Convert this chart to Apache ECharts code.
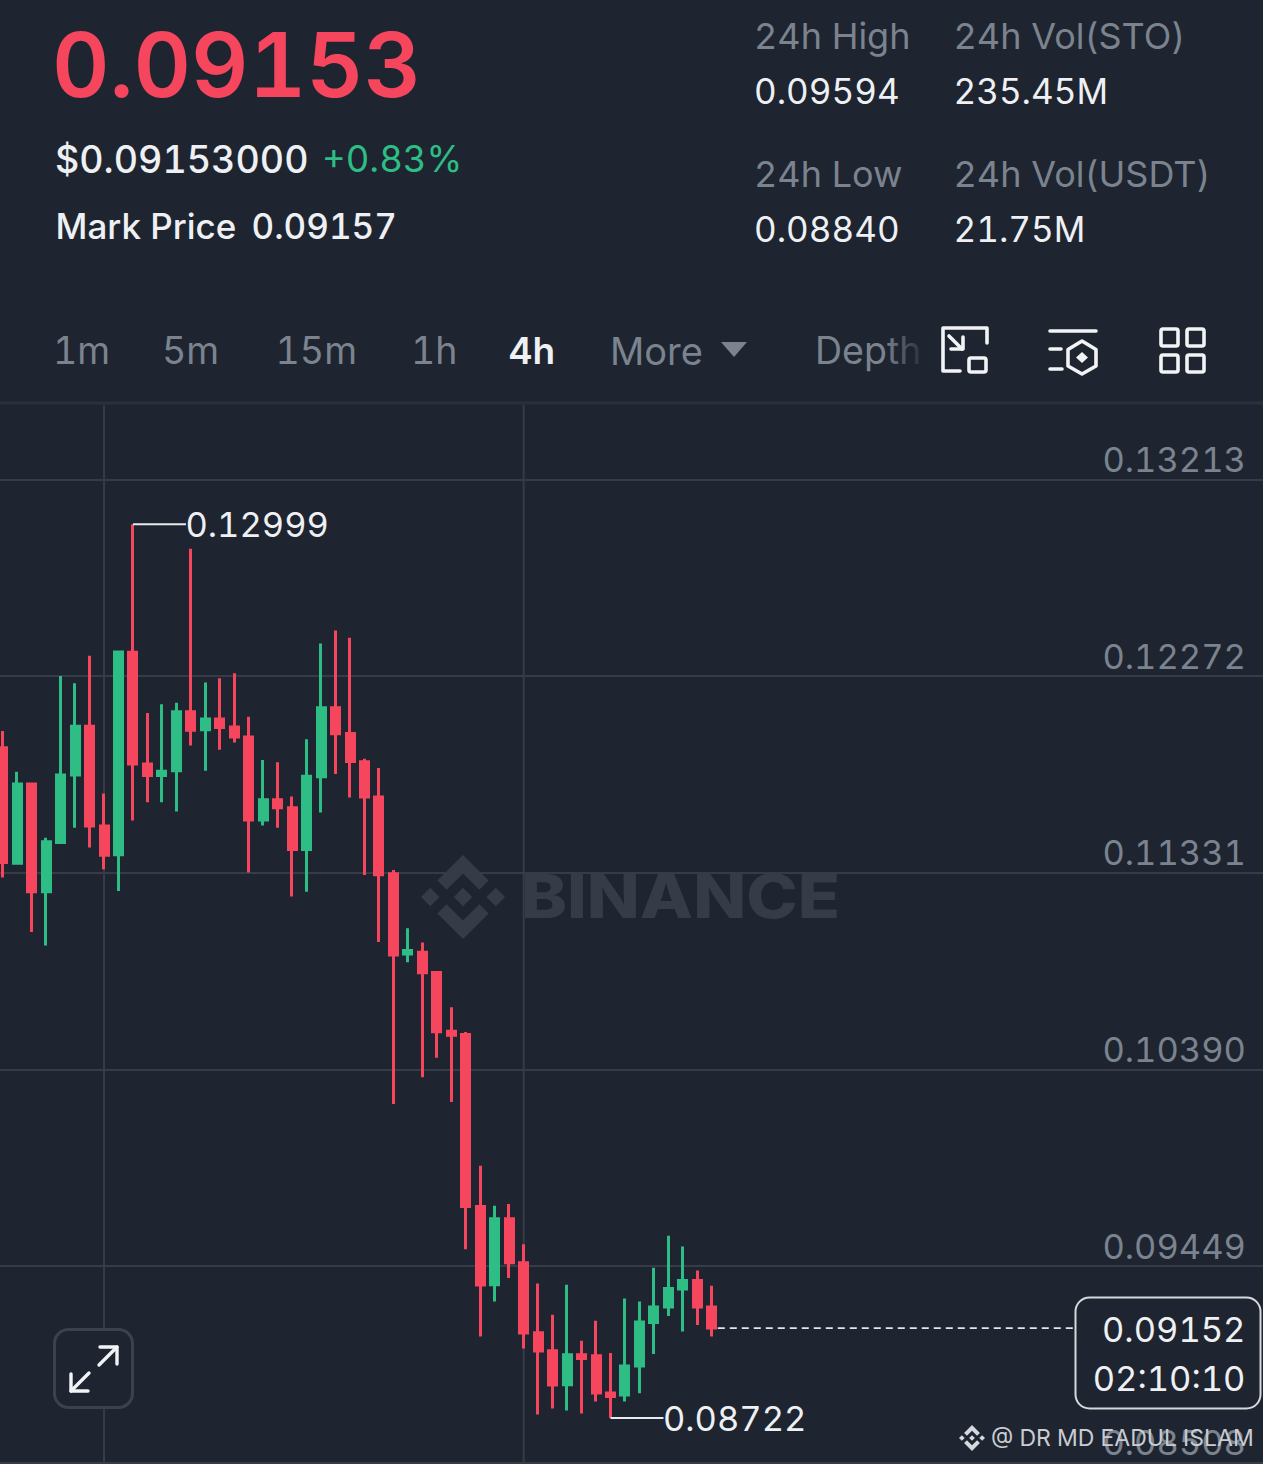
<!DOCTYPE html>
<html><head><meta charset="utf-8">
<style>html,body{margin:0;padding:0;background:#1E2530}#c{width:1263px;height:1464px}
#c svg text{font-feature-settings:"tnum" 1 !important;font-variant-numeric:tabular-nums !important}</style>
<script src="https://cdn.jsdelivr.net/npm/echarts@6/dist/echarts.min.js"></script>
</head><body><div id="c"></div>
<script>
const opens=[.11929,.11377,.11756,.11240,.11476,.11799,.12032,.11555,.11417,.12386,.11851,.11796,.11819,.12102,.12015,.12067,.12028,.11981,.11584,.11680,.11642,.11442,.11791,.12121,.11997,.11862,.11694,.11326,.10942,.10951,.10854,.10573,.10557,.09734,.09360,.09675,.09465,.09130,.09044,.08881,.09025,.09020,.08842,.08832,.08971,.09179,.09253,.09339,.09380,.09253];
const closes=[.11380,.11756,.11240,.11479,.11799,.12032,.11555,.11415,.12388,.11852,.11796,.11817,.12101,.12013,.12067,.12026,.11981,.11584,.11680,.11642,.11442,.11793,.12121,.11996,.11863,.11693,.11321,.10938,.10959,.10852,.10570,.10554,.09734,.09358,.09675,.09465,.09129,.09043,.08880,.09025,.09007,.08842,.08825,.08971,.09181,.09253,.09342,.09380,.09253,.09152];
const lows=[.11308,.11374,.11047,.10983,.11471,.11546,.11452,.11348,.11244,.11581,.11669,.11669,.11624,.11940,.11819,.11920,.11954,.11332,.11557,.11546,.11217,.11240,.11619,.11804,.11691,.11320,.11000,.10224,.10903,.10353,.10446,.10234,.09530,.09112,.09280,.09392,.09054,.08739,.08767,.08758,.08743,.08801,.08722,.08801,.08840,.09028,.09210,.09136,.09167,.09112];
const highs=[.12010,.11815,.11758,.11499,.12273,.12238,.12369,.11710,.12394,.12999,.12096,.12138,.12145,.12881,.12241,.12262,.12286,.12078,.11871,.11860,.11696,.11970,.12428,.12490,.12456,.11877,.11832,.11344,.11066,.10997,.10858,.10688,.10569,.09929,.09738,.09746,.09553,.09365,.09216,.09360,.09092,.09187,.09033,.09294,.09280,.09441,.09594,.09542,.09428,.09355];
const categories=opens.map((_,i)=>'K'+(i+1));
const emptySlots=38;
const priceTicks=[0.13213,0.12272,0.11331,0.10390,0.09449,0.08508];
const verticalGridAt=[[7,0.135694,0.085018],[36,0.135694,0.085018]];
const extremes=[[9,0.12999],[42,0.08722]];
const lastPrice=0.09152;
const countdown='02:10:10';

const BG='#1E2530',RED='#F6465D',GREEN='#2EBD85',GREY='#7B838F',WHITE='#EEF0F3',GRID='#363C47',F='Inter';
const chart=echarts.init(document.getElementById('c'),null,{renderer:'svg'});

function T(text,x,y,font,fill,align){return {type:'text',z:20,silent:true,style:{text,x,y,font:font+' '+F,fill,align:align||'left',verticalAlign:'middle'}};}
function L(pts,stroke,w){return {type:'polyline',z:20,silent:true,shape:{points:pts},style:{stroke,lineWidth:w||3.6,fill:null,lineCap:'round',lineJoin:'round'}};}
function R(x,y,w,h,r,stroke,lw,fill){return {type:'rect',z:20,silent:true,shape:{x,y,width:w,height:h,r},style:{stroke,lineWidth:lw||3.6,fill:fill||null}};}
function P(pts,fill,z){return {type:'polygon',z:z||20,silent:true,shape:{points:pts},style:{fill}};}
function logo(cx,cy,r,fill){
  const m=a=>a.map(p=>[cx+p[0]*r,cy+p[1]*r]);
  const dia=(x,y,d)=>m([[x,y-d],[x+d,y],[x,y+d],[x-d,y]]);
  return [P(dia(0,0,.22),fill),P(dia(-.78,0,.22),fill),P(dia(.78,0,.22),fill),
    P(m([[0,-1],[.61,-.39],[.39,-.17],[0,-.56],[-.39,-.17],[-.61,-.39]]),fill),
    P(m([[0,1],[.61,.39],[.39,.17],[0,.56],[-.39,.17],[-.61,.39]]),fill)];
}
const wh='#F2F3F5';
const graphics=[
  T('0.09153',52,64,'600 89px',RED),
  T('$0.09153000',55,159,'500 37.6px',WHITE),
  T('+0.83%',322,159,'400 36.5px',GREEN),
  T('Mark Price',55.5,226,'500 35px',WHITE),
  T('0.09157',251.5,226,'500 35px',WHITE),
  T('24h High',754,36,'400 36px',GREY),
  T('0.09594',754,91,'400 35px',WHITE),
  T('24h Low',754,174,'400 36px',GREY),
  T('0.08840',754,229,'400 35px',WHITE),
  T('24h Vol(STO)',953.5,36,'400 36px',GREY),
  T('235.45M',953.5,91,'400 35px',WHITE),
  T('24h Vol(USDT)',953.5,174,'400 36px',GREY),
  T('21.75M',953.5,229,'400 35px',WHITE),
  T('1m',53,350.5,'400 37.5px',GREY),
  T('5m',162,350.5,'400 37.5px',GREY),
  T('15m',275.5,350.5,'400 37.5px',GREY),
  T('1h',411,350.5,'400 37.5px',GREY),
  T('4h',508.5,350.5,'600 37px',WHITE),
  T('More',610,350.5,'400 38px',GREY),
  P([[721,342],[747,342],[734,357]],GREY),
  T('Depth',815,350.5,'400 37.5px',GREY),
  {type:'rect',z:21,silent:true,shape:{x:884,y:330,width:54,height:44},style:{
    fill:new echarts.graphic.LinearGradient(0,0,1,0,[{offset:0,color:'rgba(30,37,48,0)'},{offset:.8,color:'rgba(30,37,48,1)'},{offset:1,color:'rgba(30,37,48,1)'}])}},
  L([[987,343],[987,328],[943,328],[943,371],[960,371]],wh),
  L([[949,336],[962,349]],wh),L([[951,349],[963,349],[963,337]],wh),
  R(969,358,17,14,2,wh),
  L([[1050,331],[1096,331]],wh),L([[1050,349],[1061,349]],wh),L([[1050,369],[1062,369]],wh),
  {type:'polygon',z:20,silent:true,shape:{points:[[1082,341],[1096,349.5],[1096,366],[1082,374],[1068,366],[1068,349.5]]},style:{stroke:wh,lineWidth:3.6,fill:null,lineJoin:'round'}},
  P([[1082,352],[1088,357.5],[1082,363],[1076,357.5]],wh),
  R(1161,329,17,17,2,wh),R(1187,329,17,17,2,wh),R(1161,355,17,17,2,wh),R(1187,355,17,17,2,wh),
  {type:'line',z:1,silent:true,shape:{x1:0,y1:403,x2:1263,y2:403},style:{stroke:'#2B313C',lineWidth:3}},
  R(54.5,1329.5,78,78,14,'#3C424D',3,BG),
  L([[100,1347],[117,1347],[117,1364]],wh,3.4),L([[117,1347],[99,1365]],wh,3.4),
  L([[71,1374],[71,1391],[88,1391]],wh,3.4),L([[71,1391],[89,1373]],wh,3.4),
  ...logo(463,897,42,'#363C47'),
  {type:'text',z:3,silent:true,x:521,y:896,scaleX:1.155,style:{text:'BINANCE',x:0,y:0,font:'800 60px '+F,fill:'#363C47',verticalAlign:'middle'}},
  R(1075.5,1297.5,185,111,14,'#D5D8DC',2,BG),
  T(lastPrice.toFixed(5),1245.5,1329,'400 34.5px',WHITE,'right'),
  T(countdown,1245.5,1378,'400 34.5px',WHITE,'right'),
  ...logo(972,1438,13,'#D5D8DC'),
  T('@ DR MD EADUL ISLAM',991,1438,'400 23px','#C9CCD1'),
];

chart.setOption({
  animation:false,
  backgroundColor:BG,
  graphic:{elements:graphics},
  grid:{left:-4.5,top:405,width:1273.4,height:1059,containLabel:false,outerBoundsMode:'none'},
  xAxis:{type:'category',data:categories.concat(Array(emptySlots).fill('')),boundaryGap:true,
    axisLine:{show:false},axisTick:{show:false},axisLabel:{show:false},splitLine:{show:false}},
  yAxis:{type:'value',position:'right',scale:true,min:0.085018,max:0.135694,
    axisLine:{show:false},
    axisTick:{show:false,customValues:priceTicks},
    axisLabel:{inside:true,customValues:priceTicks,margin:23,align:'right',verticalAlign:'bottom',padding:[0,0,2.5,0],
      color:GREY,fontFamily:F,fontSize:34.5,formatter:v=>v.toFixed(5)},
    splitLine:{show:true,lineStyle:{color:GRID,width:2}}},
  series:[
    {type:'custom',name:'vgrid',z:1,silent:true,data:verticalGridAt,encode:{x:0,y:1},
     renderItem:(p,api)=>{const a=api.coord([api.value(0),api.value(1)]),b=api.coord([api.value(0),api.value(2)]);
       return {type:'line',shape:{x1:a[0],y1:a[1],x2:b[0],y2:b[1]},style:{stroke:GRID,lineWidth:2}};}},
    {type:'candlestick',name:'STO/USDT',z:5,barWidth:8.5,silent:true,
     data:opens.map((o,i)=>[o,closes[i],lows[i],highs[i]]),
     itemStyle:{color:GREEN,color0:RED,borderColor:GREEN,borderColor0:RED,borderWidth:3}},
    {type:'custom',name:'extremes',z:6,silent:true,data:extremes,encode:{x:0,y:1},
     renderItem:(p,api)=>{const c=api.coord([api.value(0),api.value(1)]);
       return {type:'group',children:[
         {type:'line',shape:{x1:c[0],y1:c[1],x2:c[0]+53,y2:c[1]},style:{stroke:'#E8EAED',lineWidth:2}},
         {type:'text',style:{text:api.value(1).toFixed(5),x:c[0]+52.5,y:c[1]+0.5,font:'400 34.5px '+F,fill:WHITE,verticalAlign:'middle'}}]};}},
    {type:'custom',name:'last',z:6,silent:true,data:[[categories.length-1,lastPrice]],encode:{x:0,y:1},
     renderItem:(p,api)=>{const c=api.coord([api.value(0),api.value(1)]);
       return {type:'line',shape:{x1:c[0]+6,y1:c[1],x2:1075,y2:c[1]},style:{stroke:'#E3E5E8',lineWidth:1.6,lineDash:[7,5]}};}}
  ]
});
</script></body></html>
